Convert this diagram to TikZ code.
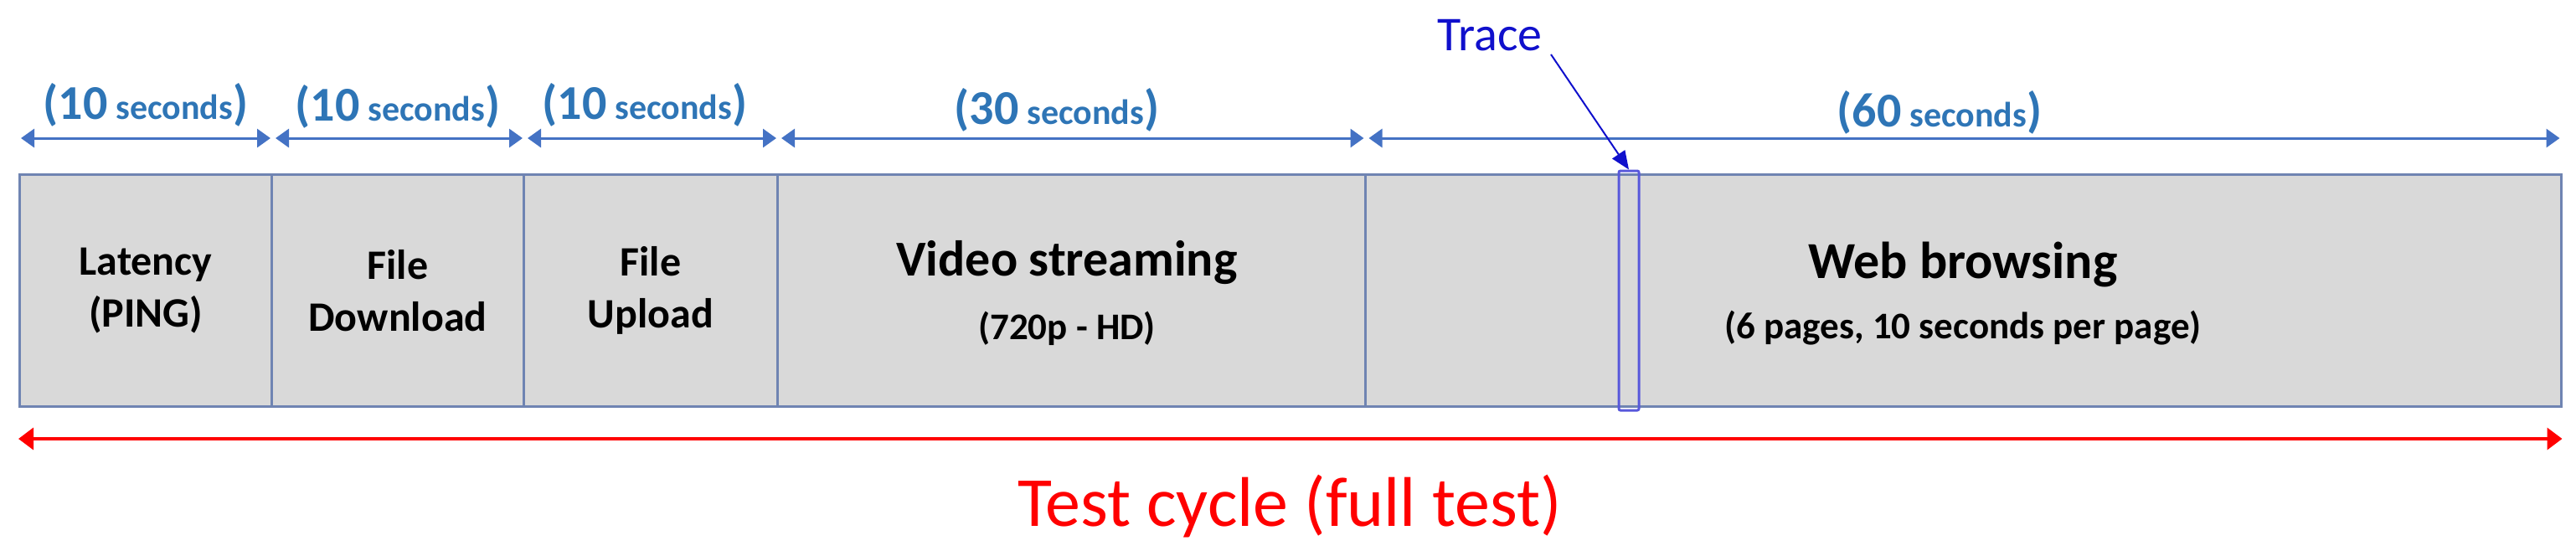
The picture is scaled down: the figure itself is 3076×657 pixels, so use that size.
\documentclass[tikz,border=0pt]{standalone}
\usepackage{fontspec}
\setmainfont{Carlito}
\usetikzlibrary{arrows.meta}
\definecolor{segfill}{HTML}{D9D9D9}
\definecolor{segline}{HTML}{6F84B2}
\definecolor{durblue}{HTML}{4472C4}
\definecolor{durtext}{HTML}{2E75B6}
\definecolor{tracecol}{HTML}{1010CC}
\tikzset{
  seg/.style={draw=segline, line width=3pt, fill=segfill, minimum height=277pt, inner sep=0pt, align=center, font=\fontsize{50}{62}\selectfont\bfseries},
  dur/.style={durblue, line width=3pt, {Triangle[width=22pt,length=16pt]}-{Triangle[width=22pt,length=16pt]}, shorten <=3pt, shorten >=3pt},
  durlab/.style={text=durtext, font=\bfseries, inner sep=0pt},
}
\newcommand{\durtxt}[1]{{\fontsize{58}{60}\selectfont(#1\,}{\fontsize{42}{50}\selectfont seconds}{\fontsize{58}{60}\selectfont)}}
\begin{document}
\begin{tikzpicture}[x=1pt,y=-1pt]
\useasboundingbox (0,0) rectangle (3076,657);
\node[seg, minimum width=301pt] (s1) at (174,347) {Latency\\(PING)};
\node[seg, minimum width=301pt] (s2) at (475,347) {File\\Download};
\node[seg, minimum width=303pt] (s3) at (777,347) {File\\Upload};
\node[seg, minimum width=702pt] (s4) at (1279,347) {};
\node[seg, minimum width=1428pt] (s5) at (2344,347) {};
\node[font=\fontsize{60}{70}\selectfont\bfseries, align=center] (v1) at (1274,314) {Video streaming};
\node[font=\fontsize{45}{50}\selectfont\bfseries] (v2) at (1274,392) {(720p - HD)};
\node[font=\fontsize{62}{70}\selectfont\bfseries] (w1) at (2344,316) {Web browsing};
\node[font=\fontsize{45}{50}\selectfont\bfseries] (w2) at (2344,392) {(6 pages, 10 seconds per page)};
% duration arrows
\draw[dur] (s1.west |- 0,165) coordinate (d0) -- (s1.east |- 0,165) coordinate (d1);
\draw[dur] (d1) -- (s2.east |- 0,165) coordinate (d2);
\draw[dur] (d2) -- (s3.east |- 0,165) coordinate (d3);
\draw[dur] (d3) -- (s4.east |- 0,165) coordinate (d4);
\draw[dur] (d4) -- (s5.east |- 0,165) coordinate (d5);
\node[durlab] (l1) at (174,125) {\durtxt{10}};
\node[durlab] (l2) at (475,127) {\durtxt{10}};
\node[durlab] (l3) at (770,125) {\durtxt{10}};
\node[durlab] (l4) at (1262,131) {\durtxt{30}};
\node[durlab] (l5) at (2316,134) {\durtxt{60}};
% trace
\node[draw=tracecol!70, line width=3pt, minimum width=24pt, minimum height=286pt, inner sep=0pt, rounded corners=2pt] (tr) at (1945,347) {};
\node[text=tracecol, font=\fontsize{58}{60}\selectfont, inner sep=2pt] (trl) at (1779,42) {Trace};
\draw[tracecol, line width=2pt, -{Triangle[width=18pt,length=22pt]}] (1852,65) -- (tr.north);
% test cycle
\draw[red, line width=3.5pt, {Triangle[width=26pt,length=18pt]}-{Triangle[width=26pt,length=18pt]}] (s1.west |- 0,524) coordinate (r0) -- (s5.east |- 0,524) coordinate (r1);
\node[text=red, font=\fontsize{84}{90}\selectfont] (tc) at (1540,605) {Test cycle (full test)};
\end{tikzpicture}
\end{document}
